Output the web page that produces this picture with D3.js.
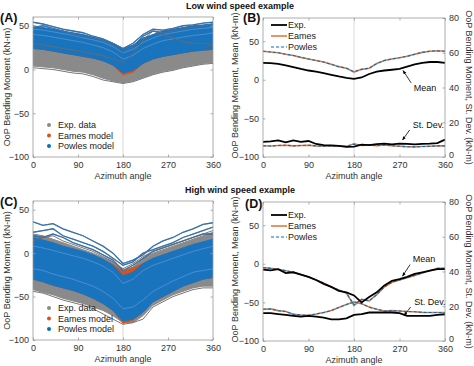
<!DOCTYPE html>
<html><head><meta charset="utf-8">
<script src="https://cdn.jsdelivr.net/npm/d3@7"></script>
<style>body{margin:0;background:#fff}svg{font-family:"Liberation Sans",Arial,sans-serif}</style>
</head><body><svg id="c" width="474" height="366"></svg>
<script>
// ---------- DATA ----------
const azBand = [0,20,40,60,80,100,120,140,160,180,200,220,240,260,280,300,320,340,360];
// Panel A (low wind): envelopes of the dense spaghetti bundles
const aExpUpper = [36,35,33,31,28,25,22,18,14,12,16,22,26,28,30,33,35,36,36];
const aExpLower = [4,3,2,0,-2,-3,-6,-10,-13,-15,-13,-9,-5,-2,0,3,5,7,8];
const aEamUpper = [49,47,45,43,41,39,36,33,29,22,27,35,39,43,45,47,49,50,51];
const aEamLower = [24,23,21,19,17,15,13,10,5,-6,-3,7,12,15,17,19,21,22,23];
const aPowUpper = [50,48,46,44,42,40,37,34,30,24,28,36,40,44,46,48,50,51,52];
const aPowLower = [24,23,21,19,17,15,13,10,5,-4,-1,7,12,15,17,19,21,22,23];
const aPowStray1 = [54,52,49,46,44,42,38,35,30,24,30,40,46,45,47,50,51,53,54];
const aPowStray2 = [48,50,47,44,40,38,36,33,28,20,26,38,44,42,44,46,49,50,52];
const aPowInner1 = [46,45,43,41,39,36,34,31,26,19,23,31,36,40,42,44,46,47,48];
const aPowInner2 = [40,39,37,35,33,31,28,25,20,12,16,24,29,33,35,37,39,40,42];
const aExpStray1 = [30,28,26,24,22,20,18,16,12,8,18,34,44,40,36,32,30,30,28];
const aExpStray2 = [2,1,0,-2,-4,-5,-8,-12,-14,-16,-14,-10,-6,-3,-1,2,4,6,7];
// Panel C (high wind)
const cExpUpper = [22,20,16,12,8,4,0,-5,-10,-20,-16,-6,0,4,8,12,16,20,24];
const cExpLower = [-42,-45,-48,-52,-55,-58,-62,-66,-72,-80,-80,-72,-60,-54,-48,-44,-40,-38,-38];
const cEamUpper = [17,14,11,7,4,1,-3,-8,-13,-21,-17,-12,-7,-3,1,5,9,12,15];
const cEamLower = [-30,-33,-37,-40,-43,-47,-52,-58,-66,-81,-77,-68,-56,-50,-44,-38,-34,-30,-28];
const cPowUpper = [18,15,12,8,5,2,-2,-7,-14,-26,-22,-12,-6,-2,2,6,10,13,16];
const cPowLower = [-30,-33,-37,-40,-43,-47,-52,-58,-66,-78,-76,-68,-56,-50,-44,-38,-34,-30,-28];
const cPowStray1 = [36,32,34,28,24,20,14,8,0,-12,-8,-2,8,14,18,24,28,33,35];
const cPowStray2 = [24,26,28,20,16,12,8,2,-6,-14,-10,0,4,8,12,18,22,26,30];
const cPowStray3 = [20,18,22,18,12,8,4,-2,-8,-20,-14,-6,2,6,10,14,18,22,22];
const cPowInner1 = [8,6,3,0,-3,-6,-10,-15,-22,-35,-30,-20,-14,-10,-6,-2,2,5,8];
const cPowInner2 = [-18,-20,-24,-27,-30,-34,-38,-44,-52,-64,-62,-54,-44,-38,-32,-27,-22,-20,-18];
const cExpStray1 = [-44,-46,-50,-54,-57,-60,-64,-70,-76,-82,-80,-76,-62,-56,-50,-46,-42,-40,-40];
const cExpStray2 = [14,18,20,14,10,6,2,-4,-10,-18,-12,-4,2,6,10,14,18,22,26];

const azLine = [0,15,30,45,60,75,90,105,120,135,150,165,180,195,210,225,240,255,270,285,300,315,330,345,360];
// Panel B (low wind): mean (left axis) and st. dev. (right axis)
const bExpMean = [22,21.5,20.5,18.5,16.5,14,12,10.5,8.6,6.5,4.3,2.5,1.3,3,7.5,10.5,12,13,14,17,20,22,23,23,22];
const bEamMean = [37,36,35,33,31.5,29,27,25,23,20,17,15,10,13.5,15,21,25,27,28.5,30.5,33,35.5,37,37.5,37];
const bPowMean = [37,36,35,33,31.5,29,27,25,23,20,17,15,10.5,13.5,15,21,25,27,28.5,30.5,33,35.5,37,37.5,37];
const bExpStd = [8.7,9,9.6,8.4,9.6,8.7,9.2,7.5,6.8,6.7,6.4,5.8,6,7.1,6.8,7.4,7.7,7.3,7.7,7.5,7.3,7.5,7.7,8,10];
const bEamStd = [6.5,6.3,6.6,6.8,6.4,6.6,6.8,6.4,6.2,6.4,6.3,6.1,7.6,6.6,7,6.5,7,6.5,6.2,5.9,5.8,6,6.2,6.4,6.4];
const bPowStd = [6.5,6.3,6.6,6.8,6.4,6.6,6.8,6.4,6.2,6.4,6.3,6.1,7.4,6.6,7,6.5,7,6.5,6.2,5.9,5.8,6,6.2,6.4,6.4];
// Panel D (high wind)
const dExpMean = [-7.5,-8.5,-7,-12,-11,-14,-17,-21,-26,-30,-35,-37,-41,-50,-43,-37,-28,-22,-20,-17,-13,-11,-9,-7,-7];
const dEamMean = [-5,-6,-7,-9,-11,-14,-17,-21,-25,-30,-34,-38,-54,-46,-48,-40,-30,-24,-21,-18,-15,-12,-9,-6,-6];
const dPowMean = [-5,-6,-7,-9,-11,-14,-17,-21,-25,-30,-34,-38,-53,-46,-48,-40,-30,-24,-21,-18,-15,-12,-9,-6,-6];
const dExpStd = [16,16,15.5,15,14.5,14,14.5,14,13.5,12.5,12.5,13,15,15.5,16.4,16.4,16.4,16.4,16,14.5,14.5,14.5,14.5,15,15.4];
const dEamStd = [18.3,18.5,17.5,17,15.4,15,14.8,15.5,16.4,17.5,19.3,21,22.5,21.5,19.5,18.3,17.3,17.5,17.3,17,16.8,16.5,16.4,16.4,16.4];
const dPowStd = [18.3,18.5,17.5,17,15.4,15,14.8,15.5,16.4,17.5,19.3,21,22.5,21.5,19.5,18.3,17.3,17.5,17.3,17,16.8,16.5,16.4,16.4,16.4];

const xTicks = [0,90,180,270,360];
const yTicksLeft = [-100,-50,0,50];
const yTicksRight = [0,20,40,60,80];

// ---------- DRAW ----------
const GRAY="#8a8a8a", ORANGE="#D95319", BLUE="#0072BD", AX="#333", FS="9px";
const svg = d3.select("#c");

function frame(g, x, y){
  const [yb,yt]=y.range();
  g.append("line").attr("x1",x(180)).attr("x2",x(180)).attr("y1",yb).attr("y2",yt)
   .attr("stroke","#d0d0d0").attr("stroke-width",0.8);
}
function axes(g, x, y, yR){
  const [x0,x1]=x.range(), [yb,yt]=y.range();
  g.append("rect").attr("x",x0).attr("y",yt).attr("width",x1-x0).attr("height",yb-yt)
   .attr("fill","none").attr("stroke","#9a9a9a").attr("stroke-width",0.8);
  const gx = g.append("g").attr("transform",`translate(0,${yb})`)
    .call(d3.axisBottom(x).tickValues(xTicks).tickSizeInner(-2.5).tickSizeOuter(0).tickPadding(5));
  const gxt = g.append("g").attr("transform",`translate(0,${yt})`)
    .call(d3.axisTop(x).tickValues(xTicks).tickSizeInner(-2.5).tickSizeOuter(0).tickFormat(""));
  const gy = g.append("g").attr("transform",`translate(${x0},0)`)
    .call(d3.axisLeft(y).tickValues(yTicksLeft).tickSizeInner(-2.5).tickSizeOuter(0).tickPadding(4));
  let gr;
  if (yR){
    gr = g.append("g").attr("transform",`translate(${x1},0)`)
      .call(d3.axisRight(yR).tickValues(yTicksRight).tickSizeInner(-2.5).tickSizeOuter(0).tickPadding(4));
  } else {
    gr = g.append("g").attr("transform",`translate(${x1},0)`)
      .call(d3.axisRight(y).tickValues(yTicksLeft).tickSizeInner(-2.5).tickSizeOuter(0).tickFormat(""));
  }
  [gx,gxt,gy,gr].forEach(a=>{
    a.select(".domain").remove();
    a.selectAll("line").attr("stroke","#9a9a9a").attr("stroke-width",0.8);
    a.selectAll("text").attr("fill",AX).style("font-size",FS).style("font-family","Liberation Sans, Arial, sans-serif");
  });
  if (yR) gr.selectAll(".tick text").filter(d=>d===0).attr("dy","0.1em");
  g.append("text").attr("x",(x0+x1)/2).attr("y",yb+22).attr("text-anchor","middle")
   .attr("fill",AX).style("font-size",FS).text("Azimuth angle");
}

function spaghettiPanel(opts){
  const x = d3.scaleLinear().domain([0,360]).range(opts.xr);
  const y = d3.scaleLinear().domain([-100,60]).range(opts.yr);
  const g = svg.append("g");
  const clipId = "clip"+opts.id;
  svg.append("clipPath").attr("id",clipId).append("rect")
    .attr("x",opts.xr[0]).attr("y",opts.yr[1]).attr("width",opts.xr[1]-opts.xr[0]).attr("height",opts.yr[0]-opts.yr[1]);
  frame(g,x,y);
  const pg = g.append("g").attr("clip-path",`url(#${clipId})`);
  const area = d3.area().x((d,i)=>x(azBand[i])).y0(d=>y(d[0])).y1(d=>y(d[1]));
  const line = d3.line().x((d,i)=>x(azBand[i])).y(d=>y(d));
  const band = (lo,hi,col)=>pg.append("path").datum(lo.map((v,i)=>[v,hi[i]])).attr("d",area)
      .attr("fill",col).attr("stroke",col).attr("stroke-width",1);
  const ln = (arr,col,w)=>pg.append("path").datum(arr).attr("d",line).attr("fill","none").attr("stroke",col).attr("stroke-width",w);
  band(opts.expLo,opts.expHi,GRAY);
  ln(opts.expStray[1],"#777",1);
  band(opts.eamLo,opts.eamHi,ORANGE);
  band(opts.powLo,opts.powHi,"#1a74bd");
  opts.powInner.forEach(a=>ln(a,"#5d9ad3",0.7));
  opts.powStray.forEach(a=>{ln(a,"#3f6690",1.3);ln(a,"#2f82c9",0.6);});
  ln(opts.expStray[0],"#6a6a6a",0.9);
  axes(g,x,y,null);
  const items=[["Exp. data",GRAY],["Eames model",ORANGE],["Powles model",BLUE]];
  items.forEach((it,i)=>{
    const yy = opts.legY + i*10.5;
    g.append("circle").attr("cx",opts.xr[0]+16).attr("cy",yy).attr("r",2).attr("fill",it[1]);
    g.append("text").attr("x",opts.xr[0]+25).attr("y",yy+3.2).attr("fill","#222").style("font-size",FS).text(it[0]);
  });
  const yc=(opts.yr[0]+opts.yr[1])/2;
  g.append("text").attr("transform",`translate(${opts.xr[0]-23},${yc}) rotate(-90)`).attr("text-anchor","middle")
   .attr("fill",AX).style("font-size",FS).text("OoP Bending Moment (kN-m)");
}

function statPanel(opts){
  const x = d3.scaleLinear().domain([0,360]).range(opts.xr);
  const y = d3.scaleLinear().domain([-100,80]).range(opts.yr);
  const yR = d3.scaleLinear().domain([0,80]).range(opts.yr);
  const g = svg.append("g");
  frame(g,x,y);
  const lineL = d3.line().x((d,i)=>x(azLine[i])).y(d=>y(d));
  const lineR = d3.line().x((d,i)=>x(azLine[i])).y(d=>yR(d));
  const draw=(gen,arr,col,w,dash)=>g.append("path").datum(arr).attr("d",gen).attr("fill","none")
     .attr("stroke",col).attr("stroke-width",w).attr("stroke-dasharray",dash||null);
  draw(lineL,opts.eamMean,"#e07a45",1.6);
  draw(lineL,opts.powMean,BLUE,1.1,"3,2");
  draw(lineR,opts.eamStd,"#e07a45",1.6);
  draw(lineR,opts.powStd,BLUE,1.1,"3,2");
  draw(lineL,opts.expMean,"#000",1.8);
  draw(lineR,opts.expStd,"#000",1.8);
  axes(g,x,y,yR);
  const items=[["Exp.","#000",1.8,null],["Eames","#e07a45",1.6,null],["Powles",BLUE,1.1,"3,2"]];
  items.forEach((it,i)=>{
    const yy=opts.legY+i*11;
    g.append("line").attr("x1",opts.xr[0]+8).attr("x2",opts.xr[0]+24).attr("y1",yy).attr("y2",yy)
     .attr("stroke",it[1]).attr("stroke-width",it[2]).attr("stroke-dasharray",it[3]);
    g.append("text").attr("x",opts.xr[0]+25).attr("y",yy+3.2).attr("fill","#222").style("font-size",FS).text(it[0]);
  });
  svg.append("defs").html(`<marker id="ah${opts.id}" viewBox="0 0 10 10" refX="9" refY="5" markerWidth="5" markerHeight="5" orient="auto"><path d="M0,1L10,5L0,9z" fill="#000"/></marker>`);
  opts.notes.forEach(n=>{
    g.append("line").attr("x1",x(n.tail[0])).attr("y1",y(n.tail[1])).attr("x2",x(n.head[0])).attr("y2",y(n.head[1]))
     .attr("stroke","#000").attr("stroke-width",0.8).attr("marker-end",`url(#ah${opts.id})`);
    g.append("text").attr("x",x(n.text[0])).attr("y",y(n.text[1])).attr("fill","#111").style("font-size",FS).text(n.label);
  });
  const yc=(opts.yr[0]+opts.yr[1])/2;
  g.append("text").attr("transform",`translate(${opts.xr[0]-25},${yc-2}) rotate(-90)`).attr("text-anchor","middle")
   .attr("fill",AX).style("font-size",FS).text("OoP Bending Moment, Mean (kN-m)");
  g.append("text").attr("transform",`translate(${opts.xr[1]+21},${yc}) rotate(90)`).attr("text-anchor","middle")
   .attr("fill",AX).style("font-size",FS).text("OoP Bending Moment, St. Dev. (kN-m)");
}

spaghettiPanel({id:"A",xr:[33,213],yr:[157,17],legY:125,
  expLo:aExpLower,expHi:aExpUpper,eamLo:aEamLower,eamHi:aEamUpper,powLo:aPowLower,powHi:aPowUpper,
  powInner:[aPowInner1,aPowInner2],powStray:[aPowStray1,aPowStray2],expStray:[aExpStray1,aExpStray2]});
spaghettiPanel({id:"C",xr:[33,213],yr:[340,201],legY:308,
  expLo:cExpLower,expHi:cExpUpper,eamLo:cEamLower,eamHi:cEamUpper,powLo:cPowLower,powHi:cPowUpper,
  powInner:[cPowInner1,cPowInner2],powStray:[cPowStray1,cPowStray2,cPowStray3],expStray:[cExpStray2,cExpStray1]});
statPanel({id:"B",xr:[263,445],yr:[157,18],legY:25,
  expMean:bExpMean,eamMean:bEamMean,powMean:bPowMean,expStd:bExpStd,eamStd:bEamStd,powStd:bPowStd,
  notes:[{label:"Mean",text:[298,-14],tail:[293,-4],head:[277,12]},
         {label:"St. Dev.",text:[296,-62],tail:[290,-65],head:[276,-78]}]});
statPanel({id:"D",xr:[263,445],yr:[341,202],legY:215,
  expMean:dExpMean,eamMean:dEamMean,powMean:dPowMean,expStd:dExpStd,eamStd:dEamStd,powStd:dPowStd,
  notes:[{label:"Mean",text:[296,2],tail:[291,-1],head:[276,-16]},
         {label:"St. Dev.",text:[299,-53],tail:[292,-56],head:[279,-67]}]});

svg.append("text").attr("x",240).attr("y",9).attr("text-anchor","middle").style("font-size","9px").style("font-weight","bold").attr("fill","#111").text("Low wind speed example");
svg.append("text").attr("x",240).attr("y",193).attr("text-anchor","middle").style("font-size","9px").style("font-weight","bold").attr("fill","#111").text("High wind speed example");
[["(A)",0,22],["(B)",243,22],["(C)",0,206],["(D)",245,208]].forEach(p=>
  svg.append("text").attr("x",p[1]).attr("y",p[2]).style("font-size","12.5px").style("font-weight","bold").attr("fill","#111").text(p[0]));
</script></body></html>
